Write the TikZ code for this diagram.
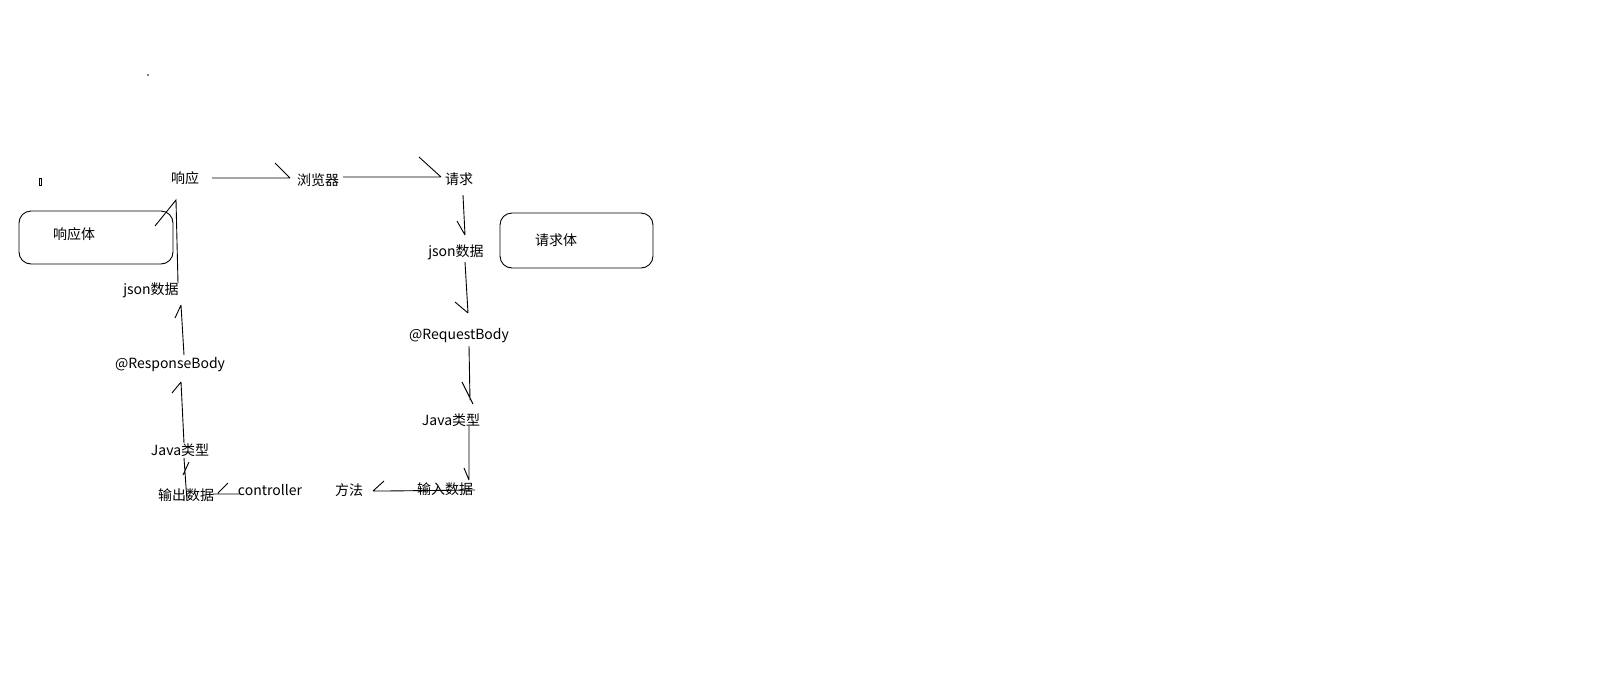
\documentclass[tikz,border=0pt]{standalone}
\usepackage{fontspec}
\setmainfont{Noto Sans CJK SC}
\begin{document}
\begin{tikzpicture}[x=1pt,y=-1pt,
  lbl/.style={inner sep=1pt,font=\fontsize{14}{16}\selectfont},
  ln/.style={line width=0.9pt},
  bx/.style={draw,line width=0.9pt,rounded corners=12pt}]
\useasboundingbox (0,0) rectangle (1605,689);
\node[lbl] (xy) at (185,178) {响应};
\node[lbl] (llq) at (318,180) {浏览器};
\node[lbl] (qq) at (459,179) {请求};
\draw[bx] (19,211) rectangle (173,264);
\node[lbl] (xyt) at (74,234) {响应体};
\draw[bx] (500,213) rectangle (653,268);
\node[lbl] (qqt) at (556,240) {请求体};
\node[lbl] (jl) at (151,290) {json数据};
\node[lbl] (rb) at (170,365) {@ResponseBody};
\node[lbl] (javl) at (180,450) {Java类型};
\node[lbl] (sc) at (186,495) {输出数据};
\node[lbl] (ctl) at (270,490) {controller};
\node[lbl] (ff) at (349,490) {方法};
\node[lbl] (sr) at (445,489) {输入数据};
\node[lbl] (javr) at (451,420) {Java类型};
\node[lbl] (qb) at (459,336) {@RequestBody};
\node[lbl] (jr) at (456,252) {json数据};
\fill (148,75) circle (0.8);
\draw[line width=0.6pt] (39,178) rectangle (41,185);
% connectors with single barbs
\draw[ln] (212,178) -- (290,178) coordinate (a1) (275,163) -- (a1);
\draw[ln] (343,177) -- (441,177) coordinate (a2) (419,157) -- (a2);
\draw[ln] (463,195) -- (465,235) coordinate (a3) (457,221) -- (a3);
\draw[ln] (465,262) -- (468,313) coordinate (a4) (455,302) -- (a4);
\draw[ln] (469,346) -- (470,400) coordinate (a5) (462,382) -- (473,404);
\draw[ln] (469,426) -- (469,480) coordinate (a6) (464,468) -- (a6);
\draw[ln] (475,490) -- (385,491) (387,491) -- (373,491) coordinate (a7) (384,481) -- (a7);
\draw[ln] (213,494) -- (240,494) (218,493) -- (228,483);
\draw[ln] (187,501) -- (184,458) coordinate (a9) (183,475) -- (189,462);
\draw[ln] (184,443) -- (181,382) coordinate (a10) (172,393) -- (a10);
\draw[ln] (184,355) -- (181,305) coordinate (a11) (175,318) -- (a11);
\draw[ln] (178,283) -- (176,200) coordinate (a12) -- (155,226);
\end{tikzpicture}
\end{document}
